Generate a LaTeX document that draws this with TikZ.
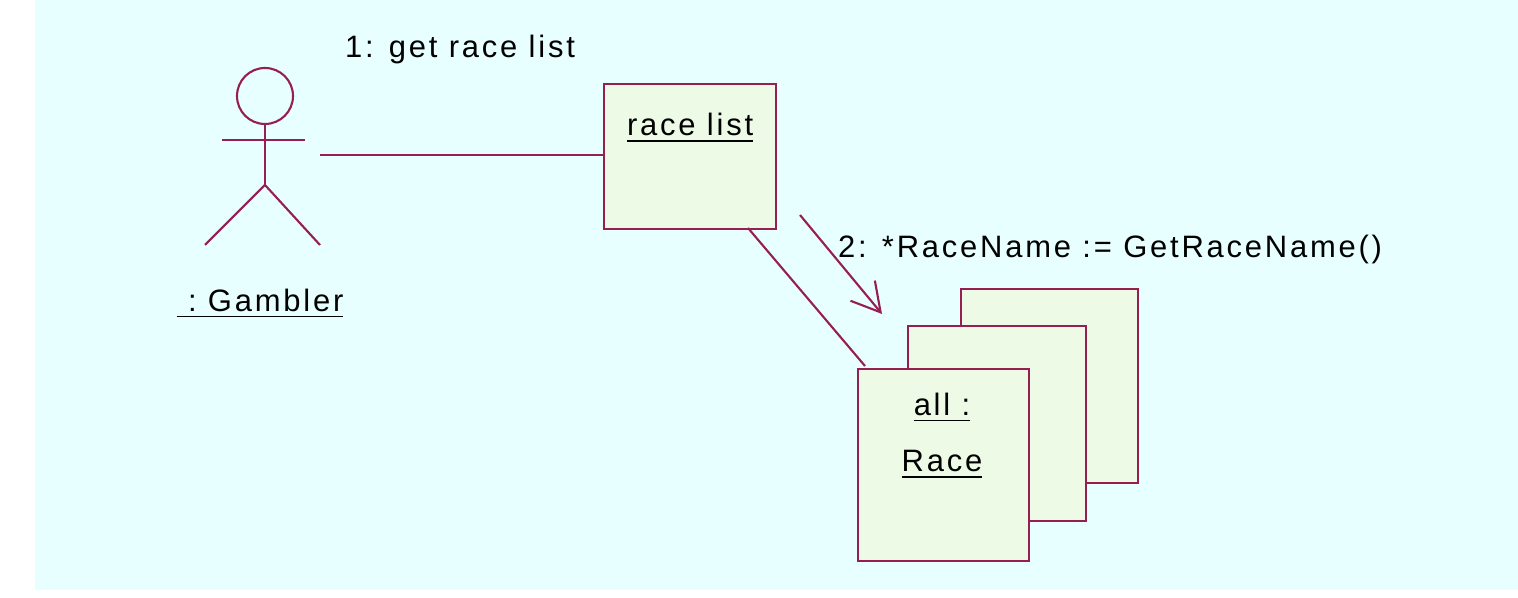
\documentclass[tikz,border=0pt]{standalone}
\usepackage{fontspec}
\setmainfont{Liberation Sans}[LetterSpace=9]
\usetikzlibrary{positioning,arrows.meta}
\definecolor{bgcyan}{RGB}{232,255,255}
\definecolor{objfill}{RGB}{236,250,230}
\definecolor{umlline}{RGB}{150,30,80}
\begin{document}
\begin{tikzpicture}[x=0.01cm,y=-0.01cm]
    \tikzset{ obj/.style ={draw=umlline, fill=objfill, line width=0.6pt, anchor=north west, inner sep=0pt} }
    \tikzset{ lnk/.style ={draw=umlline, line width=0.6pt} }
    \tikzset{ lbl/.style ={font=\fontsize{8.8}{10}\selectfont, inner sep=1pt} }

    \useasboundingbox (0,0) rectangle (1518,598);
    \fill[bgcyan] (35,0) rectangle (1518,590);

    % actor
    \draw[lnk] (265,96) circle [radius=28];
    \draw[lnk] (265,124) -- (265,185);
    \draw[lnk] (222,140) -- (305,140);
    \draw[lnk] (205,245) -- (265,185) -- (320,245);
    \coordinate (hand) at (320,155);
    \node[lbl] (gambler) at (260,304) {\underline{\ :\ Gambler}};

    % objects
    \node[obj, minimum width=1.72cm, minimum height=1.45cm] (rlist) at (603,83) {};
    \node[lbl, below=0.26cm of rlist.north] (rlistlbl) {\underline{race list}};
    \node[obj, minimum width=1.77cm, minimum height=1.94cm] (race3) at (960,288) {};
    \node[obj, minimum width=1.78cm, minimum height=1.95cm] (race2) at (907,325) {};
    \node[obj, minimum width=1.71cm, minimum height=1.92cm] (race1) at (857,368) {};
    \node[lbl, align=center] (racelbl) at (942,436) {\underline{all :}\\[6pt]\underline{Race}};

    % links
    \draw[lnk] (hand) -- (rlist.west |- hand);
    \node[lbl] (msg1) at (460,50) {1: get race list};
    \coordinate (lk) at (748,228);
    \coordinate (lr) at (865,366);
    \draw[lnk] (lk) -- (lr);
    \coordinate (ms) at (800,215);
    \coordinate (me) at (882,314);
    \draw[lnk, -{Straight Barb[length=8pt,width=9pt]}] (ms) -- (me);
    \node[lbl, anchor=west] (msg2) at (834,250) {2: *RaceName := GetRaceName()};
\end{tikzpicture}
\end{document}
